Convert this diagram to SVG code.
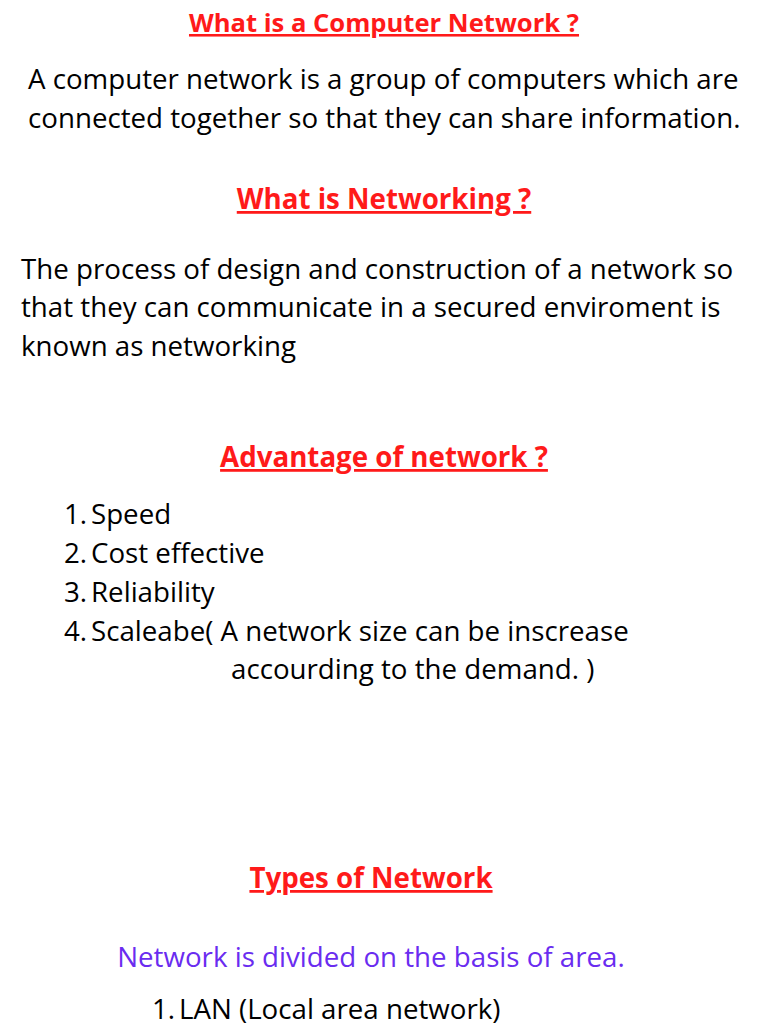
<svg xmlns="http://www.w3.org/2000/svg" width="768" height="1024" viewBox="0 0 768 1024">
<style>
text{font-family:"Open Sans","Noto Sans",sans-serif;font-size:27.7px;fill:#000}
.h{fill:#ff1a1a;font-weight:bold;text-decoration:underline;text-anchor:middle}
.p{fill:#6a2cf0;text-anchor:middle}
</style>
<rect width="768" height="1024" fill="#fff"/>
<text class="h" x="384" y="32" style="font-size:25.6px">What is a Computer Network ?</text>
<text x="28" y="89">A computer network is a group of computers which are</text>
<text x="28" y="128">connected together so that they can share information.</text>
<text class="h" x="384" y="209">What is Networking ?</text>
<text x="21" y="279">The process of design and construction of a network so</text>
<text x="21" y="317">that they can communicate in a secured enviroment is</text>
<text x="21" y="356">known as networking</text>
<text class="h" x="384" y="467">Advantage of network ?</text>
<text x="64" y="524">1.</text><text x="91" y="524">Speed</text>
<text x="64" y="563">2.</text><text x="91" y="563">Cost effective</text>
<text x="64" y="602">3.</text><text x="91" y="602">Reliability</text>
<text x="64" y="641">4.</text><text x="91" y="641">Scaleabe( A network size can be inscrease</text>
<text x="231" y="679">accourding to the demand. )</text>
<text class="h" x="371" y="888">Types of Network</text>
<text class="p" x="371" y="967">Network is divided on the basis of area.</text>
<text x="152" y="1019">1.</text><text x="179" y="1019">LAN (Local area network)</text>
</svg>
